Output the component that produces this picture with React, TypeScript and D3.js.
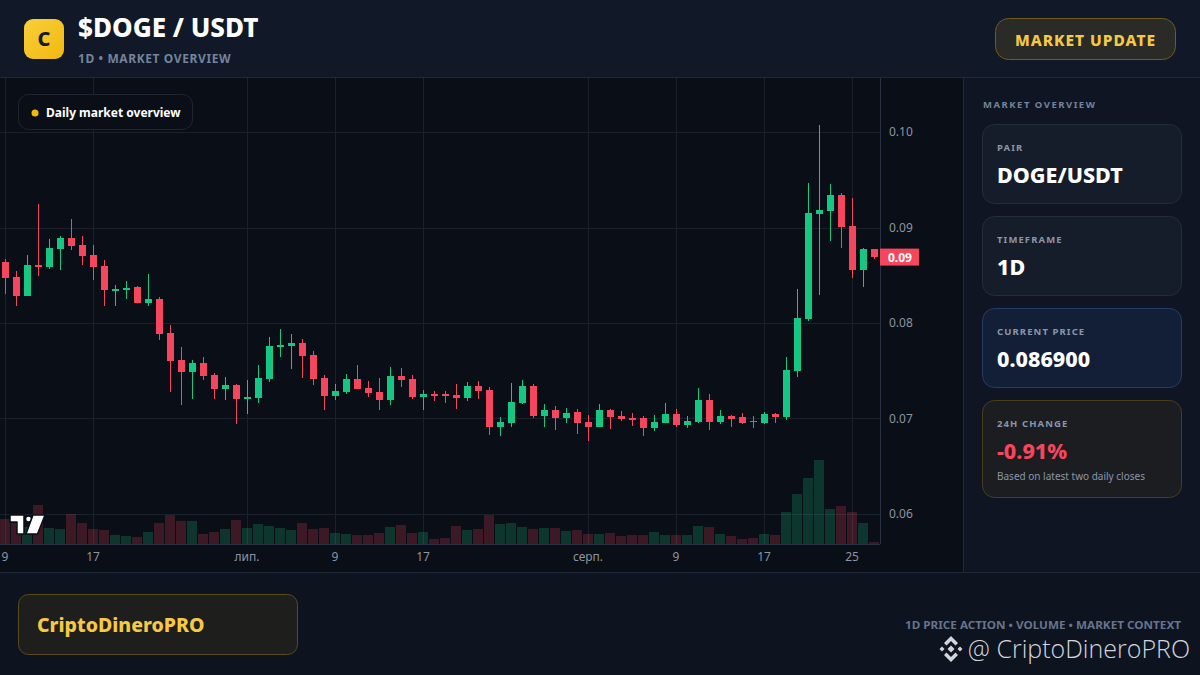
import React from "react";
import * as d3 from "d3";

// daily candles, 9 Jun -> 27 Aug
const startDay = new Date(2025, 5, 9);

const opens = [
  0.08639, 0.08482, 0.08283, 0.08607, 0.08586, 0.08775, 0.0889, 0.08817, 0.08712, 0.08597,
  0.08346, 0.08346, 0.08377, 0.08209, 0.08251, 0.07895, 0.07613, 0.07487, 0.07581, 0.07456,
  0.07309, 0.07351, 0.07204, 0.07215, 0.07414, 0.07749, 0.07759, 0.07791, 0.07665, 0.07424,
  0.07236, 0.07277, 0.07414, 0.07319, 0.07277, 0.07194, 0.07445, 0.07414, 0.07225, 0.07256,
  0.07256, 0.07246, 0.07215, 0.0734, 0.07298, 0.06911, 0.06953, 0.07162, 0.0734, 0.07026,
  0.07089, 0.07005, 0.07068, 0.06963, 0.06911, 0.07089, 0.07026, 0.07005, 0.07005, 0.06901,
  0.06953, 0.07047, 0.06932, 0.06963, 0.07194, 0.06963, 0.07026, 0.07016, 0.06974, 0.06953,
  0.07047, 0.07016, 0.07497, 0.08042, 0.09141, 0.09173, 0.0934, 0.09016, 0.08555, 0.0877,
];
const highs = [
  0.0867, 0.08544, 0.08712, 0.09246, 0.0888, 0.08911, 0.09089, 0.08911, 0.08817, 0.0866,
  0.08398, 0.0844, 0.08387, 0.08513, 0.08272, 0.07979, 0.07749, 0.07613, 0.07644, 0.07476,
  0.07435, 0.07361, 0.07403, 0.0756, 0.07853, 0.07937, 0.07885, 0.07832, 0.07707, 0.07456,
  0.07361, 0.07466, 0.0756, 0.07393, 0.07424, 0.07539, 0.07529, 0.07456, 0.07298, 0.07288,
  0.07288, 0.07361, 0.07382, 0.07393, 0.0733, 0.07016, 0.07372, 0.07403, 0.07361, 0.07152,
  0.07131, 0.0711, 0.071, 0.07037, 0.07152, 0.071, 0.07079, 0.07058, 0.07026, 0.07037,
  0.07162, 0.071, 0.07026, 0.07319, 0.07256, 0.07089, 0.07037, 0.07058, 0.07026, 0.07068,
  0.07058, 0.07644, 0.08356, 0.09466, 0.10073, 0.09456, 0.09361, 0.09309, 0.08785, 0.08775,
];
const lows = [
  0.08304, 0.08178, 0.08283, 0.08492, 0.08565, 0.08555, 0.08764, 0.08607, 0.0845, 0.08178,
  0.08178, 0.08251, 0.08209, 0.08178, 0.07822, 0.07277, 0.07141, 0.07204, 0.07403, 0.07204,
  0.07194, 0.06942, 0.07047, 0.07162, 0.07382, 0.07644, 0.07518, 0.07424, 0.07351, 0.07089,
  0.07194, 0.07256, 0.07309, 0.07225, 0.07089, 0.07141, 0.0733, 0.07204, 0.07089, 0.07183,
  0.07162, 0.071, 0.07183, 0.07204, 0.06827, 0.06817, 0.06911, 0.07152, 0.07005, 0.06911,
  0.0688, 0.06953, 0.06838, 0.06764, 0.06911, 0.0689, 0.06974, 0.06921, 0.06817, 0.06869,
  0.06953, 0.06911, 0.06901, 0.06953, 0.0688, 0.06942, 0.06911, 0.06942, 0.06901, 0.06942,
  0.06953, 0.06984, 0.07435, 0.08021, 0.08293, 0.08859, 0.08785, 0.08471, 0.08377, 0.0867,
];
const closes = [
  0.08471, 0.08283, 0.08607, 0.08586, 0.08785, 0.0889, 0.08806, 0.08702, 0.08586, 0.08346,
  0.08356, 0.08366, 0.08209, 0.08251, 0.07885, 0.07602, 0.07487, 0.07581, 0.07445, 0.07309,
  0.07351, 0.07204, 0.07225, 0.07424, 0.07759, 0.0777, 0.07791, 0.07654, 0.07414, 0.07236,
  0.07288, 0.07414, 0.07309, 0.07267, 0.07194, 0.07445, 0.07403, 0.07225, 0.07256, 0.07246,
  0.07236, 0.07215, 0.0734, 0.07288, 0.06911, 0.06963, 0.07173, 0.0734, 0.07026, 0.07089,
  0.07005, 0.07058, 0.06953, 0.06911, 0.07089, 0.07016, 0.06995, 0.06995, 0.06901, 0.06963,
  0.07047, 0.06932, 0.06974, 0.07194, 0.06963, 0.07026, 0.06995, 0.06953, 0.06963, 0.07047,
  0.07016, 0.07508, 0.08052, 0.09152, 0.09183, 0.0934, 0.09005, 0.08555, 0.0877, 0.0869,
];
// volume, millions DOGE
const volumes = [
  1250, 1050, 850, 1950, 800, 750, 1500, 1050, 750, 700,
  450, 400, 350, 600, 1050, 1450, 1150, 1150, 500, 600,
  750, 1200, 800, 1000, 900, 800, 700, 1050, 750, 800,
  550, 500, 450, 450, 550, 850, 950, 550, 600, 250,
  300, 900, 700, 750, 1450, 1000, 1050, 850, 750, 800,
  800, 650, 700, 500, 500, 550, 400, 450, 450, 600,
  450, 450, 450, 900, 850, 500, 400, 250, 300, 500,
  450, 1600, 2500, 3300, 4200, 1750, 1900, 1600, 1050, 100,
];

const priceTicks = [0.06, 0.07, 0.08, 0.09, 0.1];
const dateTicks = [
  { d: new Date(2025, 5, 9), label: "9" },
  { d: new Date(2025, 5, 17), label: "17" },
  { d: new Date(2025, 6, 1), label: "лип." },
  { d: new Date(2025, 6, 9), label: "9" },
  { d: new Date(2025, 6, 17), label: "17" },
  { d: new Date(2025, 7, 1), label: "серп." },
  { d: new Date(2025, 7, 9), label: "9" },
  { d: new Date(2025, 7, 17), label: "17" },
  { d: new Date(2025, 7, 25), label: "25" },
];

const UP = "#16c784";
const DOWN = "#f6465d";
const FONT = "'Noto Sans', 'Open Sans', sans-serif";

const App = () => {
  const candles = opens.map((o, i) => ({
    date: d3.timeDay.offset(startDay, i),
    open: o,
    high: highs[i],
    low: lows[i],
    close: closes[i],
    volume: volumes[i],
  }));
  const last = candles[candles.length - 1];

  const x = d3
    .scaleTime()
    .domain([startDay, d3.timeDay.offset(startDay, candles.length - 1)])
    .range([5, 874]);
  const y = d3.scaleLinear().domain([0.06, 0.1]).range([514, 132]);
  const yVol = d3.scaleLinear().domain([0, d3.max(volumes)]).range([544, 460]);

  const plotRight = 880;
  const fmtPrice = d3.format(".2f");

  const cards = [
    { label: "PAIR", value: "DOGE/USDT", y: 124, h: 79, fill: "#151c2a", stroke: "#232d3e" },
    { label: "TIMEFRAME", value: "1D", y: 216, h: 79, fill: "#151c2a", stroke: "#232d3e" },
    { label: "CURRENT PRICE", value: last.close.toFixed(6), y: 308, h: 79, fill: "#131f36", stroke: "#243d63" },
  ];
  const prevClose = candles[candles.length - 2].close;
  const change = ((last.close - prevClose) / prevClose) * 100;

  return (
    <div style={{ position: "absolute", left: 0, top: 0, width: 1200, height: 675 }}>
      <svg width={1200} height={675} style={{ display: "block", fontFamily: FONT }}>
        <defs>
          <linearGradient id="logoGrad" x1="0" y1="0" x2="1" y2="1">
            <stop offset="0%" stopColor="#f8cf3a" />
            <stop offset="100%" stopColor="#f2b90f" />
          </linearGradient>
          <clipPath id="plotClip">
            <rect x={0} y={78} width={plotRight} height={467} />
          </clipPath>
        </defs>

        {/* backgrounds */}
        <rect x={0} y={0} width={1200} height={675} fill="#0e1320" />
        <rect x={0} y={0} width={1200} height={77} fill="#111827" />
        <rect x={0} y={78} width={963} height={494} fill="#0a0e16" />
        <rect x={963} y={78} width={237} height={494} fill="#0f1522" />
        <line x1={0} x2={1200} y1={77.5} y2={77.5} stroke="#1f2938" />
        <line x1={0} x2={1200} y1={572.5} y2={572.5} stroke="#1f2938" />
        <line x1={963.5} x2={963.5} y1={78} y2={572} stroke="#1f2938" />

        {/* header */}
        <rect x={24} y={19} width={40} height={40} rx={9} fill="url(#logoGrad)" />
        <text x={44} y={46} textAnchor="middle" fontSize={20} fontWeight={800} fill="#141a26">C</text>
        <text x={78} y={37} fontSize={26} fontWeight={800} fill="#ffffff">$DOGE / USDT</text>
        <text x={78} y={63} fontSize={12} fontWeight={700} fill="#74839a" letterSpacing={0.6}>
          1D • MARKET OVERVIEW
        </text>
        <rect x={995.5} y={18.5} width={180} height={41} rx={13} fill="#2a2a27" stroke="#6e5c22" />
        <text x={1085.5} y={45.5} textAnchor="middle" fontSize={15.5} fontWeight={800} fill="#f6c945" letterSpacing={1}>
          MARKET UPDATE
        </text>

        {/* grid */}
        <g stroke="#1a202c" strokeWidth={1}>
          {priceTicks.map((p) => (
            <line key={p} x1={0} x2={plotRight} y1={Math.round(y(p)) + 0.5} y2={Math.round(y(p)) + 0.5} />
          ))}
          {dateTicks.map((t, i) => (
            <line key={i} x1={Math.round(x(t.d)) + 0.5} x2={Math.round(x(t.d)) + 0.5} y1={78} y2={544} />
          ))}
        </g>

        <g clipPath="url(#plotClip)">
          {/* volume */}
          {candles.map((c, i) => (
            <rect
              key={"v" + i}
              x={Math.round(x(c.date)) - 5}
              y={yVol(c.volume)}
              width={10}
              height={544 - yVol(c.volume)}
              fill={c.close >= c.open ? "rgba(22,199,132,0.22)" : "rgba(246,70,93,0.22)"}
            />
          ))}
          {/* candles */}
          {candles.map((c, i) => {
            const cx = Math.round(x(c.date));
            const col = c.close >= c.open ? UP : DOWN;
            const top = y(Math.max(c.open, c.close));
            const bot = y(Math.min(c.open, c.close));
            return (
              <g key={"c" + i} shapeRendering="crispEdges">
                <rect x={cx} y={y(c.high)} width={1} height={y(c.low) - y(c.high)} fill={col} />
                <rect x={cx - 3} y={top} width={7} height={Math.max(1.5, bot - top)} fill={col} />
              </g>
            );
          })}
        </g>

        {/* price scale */}
        <line x1={plotRight + 0.5} x2={plotRight + 0.5} y1={78} y2={544} stroke="#283041" />
        {priceTicks.map((p) => (
          <text key={p} x={889} y={y(p) + 4} fontSize={12} fill="#8c95a3">
            {fmtPrice(p)}
          </text>
        ))}
        <rect x={880} y={y(last.close) - 8.5} width={39} height={17} fill={DOWN} />
        <text x={888} y={y(last.close) + 4.5} fontSize={12} fontWeight={700} fill="#ffffff">
          {fmtPrice(last.close)}
        </text>

        {/* time scale */}
        <line x1={0} x2={plotRight} y1={544.5} y2={544.5} stroke="#283041" />
        {dateTicks.map((t, i) => (
          <text key={i} x={x(t.d)} y={561} textAnchor="middle" fontSize={12} fill="#8c95a3">
            {t.label}
          </text>
        ))}

        {/* TradingView mark */}
        <g fill="#ffffff" stroke="#0a0e16" strokeWidth={1.5} strokeLinejoin="round">
          <path d="M10,515 H24 V534 H17 V522 H10 Z" />
          <circle cx={28.5} cy={519} r={3} />
          <path d="M33,515 H45 L37.5,534 H26 Z" />
        </g>

        {/* legend pill */}
        <rect x={18.5} y={94.5} width={174} height={35} rx={10} fill="#0a0e16" stroke="#1f2633" />
        <circle cx={35} cy={113} r={3.5} fill="#f0b90b" />
        <text x={46} y={117} fontSize={12} fontWeight={700} fill="#ffffff">Daily market overview</text>

        {/* side panel */}
        <text x={983} y={108} fontSize={9.5} fontWeight={700} fill="#74839a" letterSpacing={1.5}>
          MARKET OVERVIEW
        </text>
        {cards.map((c) => (
          <g key={c.label}>
            <rect x={982.5} y={c.y + 0.5} width={199} height={c.h} rx={12} fill={c.fill} stroke={c.stroke} />
            <text x={997} y={c.y + 27} fontSize={9.5} fontWeight={700} fill="#8a96a8" letterSpacing={1.1}>
              {c.label}
            </text>
            <text x={997} y={c.y + 59} fontSize={21.5} fontWeight={800} fill="#ffffff">
              {c.value}
            </text>
          </g>
        ))}
        <rect x={982.5} y={400.5} width={199} height={97} rx={12} fill="#1b1d21" stroke="#4a3d1b" />
        <text x={997} y={427} fontSize={9.5} fontWeight={700} fill="#8a96a8" letterSpacing={1.1}>24H CHANGE</text>
        <text x={997} y={459} fontSize={21.5} fontWeight={800} fill={DOWN}>
          {change.toFixed(2)}%
        </text>
        <text x={997} y={480} fontSize={10} fill="#8a96a8">Based on latest two daily closes</text>

        {/* footer */}
        <rect x={18.5} y={594.5} width={279} height={60} rx={10} fill="#1e1e1d" stroke="#5a4a1c" />
        <text x={37} y={632} fontSize={19.5} fontWeight={800} fill="#f6c945">CriptoDineroPRO</text>
        <text
          x={1181}
          y={629}
          textAnchor="end"
          fontSize={10.5}
          fontWeight={700}
          fill="#66758c"
          textLength={276}
          lengthAdjust="spacingAndGlyphs"
        >
          1D PRICE ACTION • VOLUME • MARKET CONTEXT
        </text>
        <g fill="#d2d6dc">
          {[
            [951, 649, 3.5],
            [942, 649, 2.5],
            [960, 649, 2.5],
          ].map(([cx, cy, s], i) => (
            <path key={i} d={`M${cx},${cy - s} L${cx + s},${cy} L${cx},${cy + s} L${cx - s},${cy} Z`} />
          ))}
          <path d="M951,636 L958,643 L955.5,645.5 L951,641 L946.5,645.5 L944,643 Z" />
          <path d="M951,662 L958,655 L955.5,652.5 L951,657 L946.5,652.5 L944,655 Z" />
        </g>
        <text x={1190} y={658} textAnchor="end" fontSize={25} fontWeight={300} fill="#d2d6dc" fontFamily="'Open Sans', sans-serif">
          @ CriptoDineroPRO
        </text>
      </svg>
    </div>
  );
};

export default App;
